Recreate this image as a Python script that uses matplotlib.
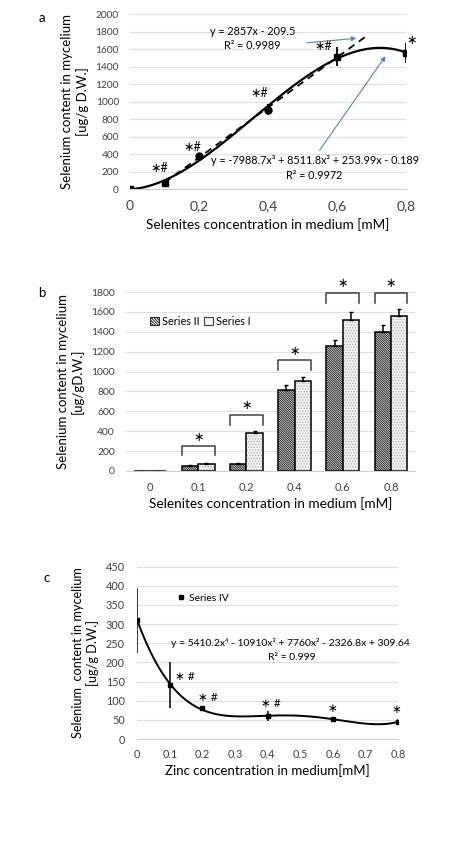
import numpy as np
import matplotlib
matplotlib.use("Agg")
import matplotlib.pyplot as plt
from matplotlib.patches import Patch

plt.rcParams["font.family"] = ["Lato", "DejaVu Sans"]
plt.rcParams["hatch.linewidth"] = 0.7

# --- panel a data
conc_a = [0, 0.1, 0.2, 0.4, 0.6, 0.8]
se_a = [5, 75, 380, 910, 1515, 1555]
err_a = [0, 8, 15, 60, 105, 110]
lin_coef = [2857, -209.5]
cub_coef = [-7988.7, 8511.8, 253.99, -0.189]
marks_a = ["∗#", "∗#", "∗#", "∗#", "∗"]
marks_a_xy = [(0.084, 243), (0.18, 486), (0.374, 1100), (0.56, 1635), (0.817, 1700)]

# --- panel b data
cats_b = ["0", "0.1", "0.2", "0.4", "0.6", "0.8"]
ser2 = [4, 55, 75, 815, 1255, 1395]
ser2_err = [0, 3, 3, 45, 65, 70]
ser1 = [4, 75, 380, 905, 1520, 1555]
ser1_err = [0, 5, 20, 45, 75, 75]
brackets_b = [(1, 161, 251), (2, 463, 566), (3, 1016, 1116), (4, 1690, 1793), (5, 1690, 1793)]

# --- panel c data
conc_c = [0, 0.1, 0.2, 0.4, 0.6, 0.8]
se_c = [310, 140, 80, 60, 52, 44]
err_c = [85, 60, 5, 12, 4, 7]
quart_coef = [5410.2, -10910, 7760, -2326.8, 309.64]
marks_c = ["∗ #", "∗ #", "∗ #", "∗", "∗"]
marks_c_xy = [(0.146, 164), (0.216, 109), (0.41, 94), (0.6, 80), (0.794, 76)]

W, H = 474, 842
fig = plt.figure(figsize=(W / 100, H / 100), dpi=100)


def px_axes(l, r, t, b):
    return fig.add_axes([l / W, 1 - b / H, (r - l) / W, (b - t) / H])


def excel_style(ax):
    for s in ["top", "right", "left"]:
        ax.spines[s].set_visible(False)
    ax.spines["bottom"].set_color("#d0d0d0")
    ax.grid(axis="y", color="#e0e0e0", lw=0.8)
    ax.set_axisbelow(True)
    ax.tick_params(length=0, colors="#404040")


# ---------------- a
ax = px_axes(130, 406, 14, 189.3)
excel_style(ax)
ax.set_xlim(0, 0.8)
ax.set_ylim(0, 2000)
ax.set_yticks(range(0, 2001, 200))
ax.set_xticks([0, 0.2, 0.4, 0.6, 0.8])
ax.set_xticklabels(["0", "0,2", "0,4", "0,6", "0,8"], fontsize=10)
ax.tick_params(axis="y", labelsize=7.3, pad=8)
ax.tick_params(axis="x", pad=8)
xx = np.linspace(0, 0.8, 200)
ax.plot(xx, np.polyval(cub_coef, xx), color="black", lw=1.6)
xl = np.linspace(0.1, 0.69, 50)
ax.plot(xl, np.polyval(lin_coef, xl), color="black", lw=1.3, ls=(0, (4, 3)))
ax.errorbar(conc_a, se_a, yerr=err_a, fmt="none", ecolor="black", lw=1.3, capsize=0)
sq = [0, 1, 4, 5]
ax.plot([conc_a[i] for i in sq], [se_a[i] for i in sq], "s", color="black", ms=4.5)
ax.plot([conc_a[i] for i in (2, 3)], [se_a[i] for i in (2, 3)], "o", color="black", ms=5)
for m, (x, y) in zip(marks_a, marks_a_xy):
    ax.text(x, y, m, fontsize=9, ha="center", va="center")
ax.text(0.355, 1725, "y = 2857x - 209.5\nR² = 0.9989", fontsize=7.8, ha="center",
        va="center", linespacing=1.35)
ax.text(0.535, 243, "y = -7988.7x³ + 8511.8x² + 253.99x - 0.189\nR² = 0.9972", fontsize=7.8,
        ha="center", va="center", linespacing=1.35)
arr = dict(arrowstyle="-|>", color="#5a82bb", lw=0.8, mutation_scale=7)
ax.annotate("", xy=(0.664, 1726), xytext=(0.504, 1668), arrowprops=arr)
ax.annotate("", xy=(0.745, 1544), xytext=(0.545, 420), arrowprops=arr)
ax.set_xlabel("Selenites concentration in medium [mM]", fontsize=9.8, labelpad=4)
ax.set_ylabel("Selenium content in mycelium\n[ug/g D.W.]", fontsize=9.5, labelpad=5)
fig.text(42 / W, 1 - 18 / H, "a", fontsize=9.5, ha="center", va="center")

# ---------------- b
ax = px_axes(126, 415, 292, 471)
excel_style(ax)
ax.set_xlim(-0.5, 5.5)
ax.set_ylim(0, 1800)
ax.set_yticks(range(0, 1801, 200))
ax.tick_params(axis="y", labelsize=7.5, pad=8)
ax.tick_params(axis="x", labelsize=8, pad=8)
x = np.arange(len(cats_b))
bw = 0.34
hatch2 = "\\" * 15
ax.bar(x - bw / 2, ser2, bw, color="white", edgecolor="#262626", hatch=hatch2, lw=0)
ax.bar(x - bw / 2, ser2, bw, color="none", edgecolor="black", lw=1.1)
ax.bar(x + bw / 2, ser1, bw, color="#f2f2f2", edgecolor="#b8b8b8", hatch="......", lw=0)
ax.bar(x + bw / 2, ser1, bw, color="none", edgecolor="black", lw=1.1)
ax.errorbar(x - bw / 2, ser2, yerr=[np.zeros(6), ser2_err], fmt="none", ecolor="black",
            lw=1.1, capsize=1.5)
ax.errorbar(x + bw / 2, ser1, yerr=[np.zeros(6), ser1_err], fmt="none", ecolor="black",
            lw=1.1, capsize=1.5)
for i, lo, hi in brackets_b:
    ax.plot([i - 0.34, i - 0.34, i + 0.34, i + 0.34], [lo, hi, hi, lo], color="#404040", lw=1.1)
    ax.text(i, hi + 95, "∗", fontsize=9, ha="center", va="center")
ax.set_xticks(x)
ax.set_xticklabels(cats_b)
h2 = Patch(facecolor="white", edgecolor="#262626", hatch="\\" * 12, lw=0.8)
h1 = Patch(facecolor="#f2f2f2", edgecolor="#404040", lw=0.8)
ax.legend([h2, h1], ["Series II", "Series I"], ncol=2, frameon=False, fontsize=7.8,
          loc="upper left", bbox_to_anchor=(0.05, 0.92), handlelength=0.8, handleheight=0.8,
          handletextpad=0.3, columnspacing=0.4)
ax.set_xlabel("Selenites concentration in medium [mM]", fontsize=9.8, labelpad=3)
ax.set_ylabel("Selenium content in mycelium\n[ug/gD.W.]", fontsize=9.5, labelpad=5)
fig.text(42 / W, 1 - 293 / H, "b", fontsize=9.5, ha="center", va="center")

# ---------------- c
ax = px_axes(137.3, 398, 566.7, 739)
excel_style(ax)
ax.set_xlim(0, 0.8)
ax.set_ylim(0, 450)
ax.set_yticks(range(0, 451, 50))
ax.set_xticks(np.round(np.arange(0, 0.81, 0.1), 1))
ax.set_xticklabels(["0", "0.1", "0.2", "0.3", "0.4", "0.5", "0.6", "0.7", "0.8"])
ax.tick_params(axis="y", labelsize=7.8, pad=9)
ax.tick_params(axis="x", labelsize=7.8, pad=7)
xx = np.linspace(0, 0.8, 200)
ax.plot(xx, np.polyval(quart_coef, xx), color="black", lw=1.4)
ax.errorbar(conc_c, se_c, yerr=err_c, fmt="none", ecolor="black", lw=1.1, capsize=0)
ax.plot(conc_c, se_c, "s", color="black", ms=3.2, label="Series IV")
for m, (xm, ym) in zip(marks_c, marks_c_xy):
    ax.text(xm, ym, m, fontsize=8.5, ha="center", va="center")
ax.text(0.47, 252, "y = 5410.2x⁴ - 10910x³ + 7760x² - 2326.8x + 309.64", fontsize=7.5,
        ha="center", va="center")
ax.text(0.475, 213, "R² = 0.999", fontsize=7.5, ha="center", va="center")
ax.legend(frameon=False, fontsize=7.5, loc="upper left", bbox_to_anchor=(0.12, 0.9),
          handlelength=0.6, handletextpad=0.5, markerscale=0.8)
ax.set_xlabel("Zinc concentration in medium[mM]", fontsize=9.5, labelpad=3)
ax.set_ylabel("Selenium  content in mycelium\n[ug/g D.W.]", fontsize=9.2, labelpad=5)
fig.text(47 / W, 1 - 578 / H, "c", fontsize=9.5, ha="center", va="center")

fig.savefig("out.png", dpi=100, facecolor="white")
